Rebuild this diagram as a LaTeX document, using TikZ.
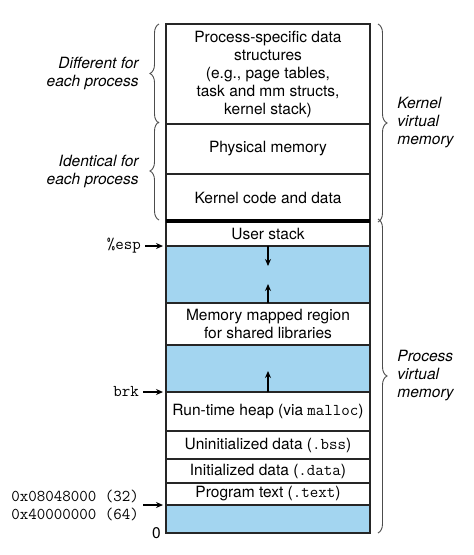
\documentclass[tikz,border=0pt]{standalone}
\usepackage{fontspec}
\setmainfont{TeX Gyre Heros}
\usepackage{tikz}
\usetikzlibrary{arrows.meta, positioning, decorations.pathreplacing}

\definecolor{luecke}{RGB}{163,213,240}
\newcommand{\mono}[1]{{\fontsize{16.5}{18}\selectfont\ttfamily #1}}

\tikzset{
	seg/.style={draw=black!85, line width=1.2pt, minimum width=204pt, inner sep=0pt, outer sep=0pt, align=center, font=\fontsize{15.5}{18}\selectfont},
	lueckeseg/.style={seg, fill=luecke},
	klammer/.style={draw=black!70, line width=0.9pt, decorate, decoration={brace, amplitude=9pt}},
	seite/.style={font=\fontsize{15.5}{18}\selectfont\itshape, inner sep=0pt},
	adresse/.style={font=\fontsize{16.5}{18}\selectfont\ttfamily, inner sep=0pt, align=right},
}

\begin{document}
\begin{tikzpicture}[x=1pt, y=-1pt, >={Stealth[length=7pt, width=6pt]}]
			\useasboundingbox (0,0) rectangle (474,555);
			
			% Kernbereich
			\node[seg, minimum height=100pt, anchor=north] (psd) at (268,24) {Process-specific data\\structures\\(e.g., page tables,\\task and mm structs,\\kernel stack)};
			\node[seg, minimum height=50pt, below=0pt of psd] (phys) {Physical memory};
			\node[seg, minimum height=47pt, below=0pt of phys] (kcode) {Kernel code and data};
			
			% Prozessbereich
			\node[seg, minimum height=25pt, below=0pt of kcode] (ustack) {User stack};
			\node[lueckeseg, minimum height=57pt, below=0pt of ustack] (gap1) {};
			\node[seg, minimum height=42pt, below=0pt of gap1] (mmap) {Memory mapped region\\for shared libraries};
			\node[lueckeseg, minimum height=47pt, below=0pt of mmap] (gap2) {};
			\node[seg, minimum height=39pt, below=0pt of gap2] (heap) {Run-time heap (via \mono{malloc})};
			\node[seg, minimum height=28pt, below=0pt of heap] (bss) {Uninitialized data (\mono{.bss})};
			\node[seg, minimum height=24pt, below=0pt of bss] (data) {Initialized data (\mono{.data})};
			\node[seg, minimum height=22pt, below=0pt of data] (text) {Program text (\mono{.text})};
			\node[lueckeseg, minimum height=28pt, below=0pt of text] (gap3) {};
			
			% Trennlinie
			\draw[line width=3.5pt] (kcode.south west) -- (kcode.south east);
			
			% Wachstumspfeile
			\coordinate[below=20pt of gap1.north] (stackend);
			\coordinate[above=19pt of mmap.north] (mmapend);
			\coordinate[above=21pt of heap.north] (heapend);
			\draw[->, line width=1.2pt] (gap1.north) -- (stackend);
			\draw[->, line width=1.2pt] (mmap.north) -- (mmapend);
			\draw[->, line width=1.2pt] (heap.north) -- (heapend);
			
			% Klammern links
			\draw[klammer] ([xshift=-7pt, yshift=1pt]psd.south west) -- ([xshift=-7pt]psd.north west) node[seite, midway, left=20pt, align=right] (diff) {Different for\\each process};
			\draw[klammer] ([xshift=-7pt, yshift=1pt]kcode.south west) -- ([xshift=-7pt, yshift=2pt]phys.north west) node[seite, midway, left=20pt, align=right] (ident) {Identical for\\each process};
			
			% Klammern rechts
			\draw[klammer] ([xshift=8pt]psd.north east) -- ([xshift=8pt, yshift=-1pt]kcode.south east) node[seite, midway, right=19pt, align=left] (kvm) {Kernel\\virtual\\memory};
			\draw[klammer] ([xshift=8pt, yshift=2pt]ustack.north east) -- ([xshift=8pt]gap3.south east) node[seite, midway, right=19pt, align=left] (pvm) {Process\\virtual\\memory};
			
			% Adressen
			\node[adresse, left=25pt of gap1.north west] (esp) {\%esp};
			\node[adresse, left=27pt of heap.north west] (brk) {brk};
			\node[adresse, left=27pt of text.south west] (start) {0x08048000 (32)\\0x40000000 (64)};
			\node[seite, font=\fontsize{15.5}{18}\selectfont, left=5pt of gap3.south west] (null) {0};
			\draw[->, line width=1.2pt, shorten <=4pt, shorten >=3pt] (esp) -- (gap1.north west);
			\draw[->, line width=1.2pt, shorten <=4pt, shorten >=3pt] (brk) -- (heap.north west);
			\draw[->, line width=1.2pt, shorten <=4pt, shorten >=3pt] (start.east) -- (text.south west);
		\end{tikzpicture}
\end{document}
